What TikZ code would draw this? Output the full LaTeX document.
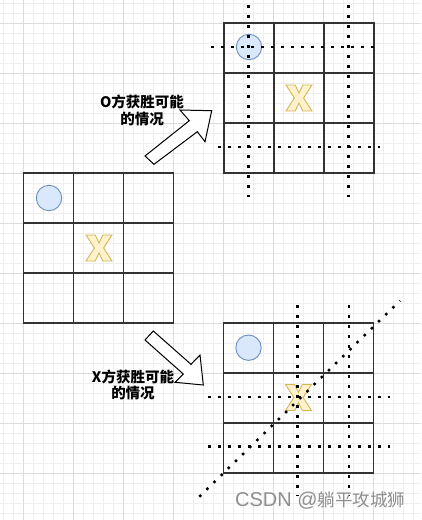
\documentclass[tikz,border=0pt]{standalone}
\usepackage{fontspec}
\newfontfamily\cjk{Noto Sans CJK SC}
\newfontfamily\wmlatin{Liberation Sans}
\definecolor{gridminor}{HTML}{EEEEEE}
\definecolor{gridmajor}{HTML}{DCDCDC}
\definecolor{boardc}{HTML}{333333}
\definecolor{ofill}{HTML}{DAE8FC}
\definecolor{odraw}{HTML}{6C8EBF}
\definecolor{xfill}{HTML}{FFF2CC}
\definecolor{xdraw}{HTML}{D6B656}
\definecolor{wmc}{HTML}{8E8E8E}
\tikzset{
  minorline/.style={gridminor, line width=0.8pt},
  majorline/.style={gridmajor, line width=0.9pt},
  board/.style={draw=boardc, line width=1.6pt, minimum size=150pt, inner sep=0pt, outer sep=0pt, fill=none},
  boardline/.style={boardc, line width=1.6pt},
  ocirc/.style={circle, draw=odraw, fill=ofill, line width=0.9pt, minimum size=25.4pt, inner sep=0pt},
  xshape/.style={draw=xdraw, fill=xfill, line width=0.9pt, line join=miter},
  dots/.style={black, line width=2.5pt, dash pattern=on 2.5pt off 7.5pt},
  blockarrow/.style={draw=black, fill=white, line width=1pt, line join=miter},
  lbl/.style={align=center, inner sep=0pt, font=\cjk\bfseries\fontsize{14.5}{16.5}\selectfont},
  wm/.style={inner sep=0pt, text=wmc},
  xmark/.pic={\path[xshape] (-13,-13) -- (-3.8,-13) -- (0,-5) -- (3.8,-13) -- (13,-13) -- (4.6,0) -- (13,13) -- (3.8,13) -- (0,5) -- (-3.8,13) -- (-13,13) -- (-4.6,0) -- cycle;}
}
\begin{document}
\begin{tikzpicture}[x=1pt,y=-1pt]
\useasboundingbox[fill=white] (0,0) rectangle (421,520);
% background grid
\foreach \x in {3.5,13.5,...,421} \draw[minorline] (\x,0) -- (\x,520);
\foreach \y in {3,13,...,520} \draw[minorline] (0,\y) -- (421,\y);
\foreach \x in {23.5,73.5,...,421} \draw[majorline] (\x,0) -- (\x,520);
\foreach \y in {23,73,...,520} \draw[majorline] (0,\y) -- (421,\y);

% boards
\foreach \n/\cx/\cy in {L/98.5/248, T/299/98, B/298.5/398}{
  \node[board] (\n) at (\cx,\cy) {};
  \draw[boardline] ([xshift=50pt]\n.north west) -- ([xshift=50pt]\n.south west);
  \draw[boardline] ([xshift=-50pt]\n.north east) -- ([xshift=-50pt]\n.south east);
  \draw[boardline] ([yshift=-50pt]\n.north west) -- ([yshift=-50pt]\n.north east);
  \draw[boardline] ([yshift=50pt]\n.south west) -- ([yshift=50pt]\n.south east);
}

% pieces
\node[ocirc] (Lo) at (49,198) {};
\pic at (99,248) {xmark};
\node[ocirc] (To) at (249,47) {};
\pic at (299,98) {xmark};
\node[ocirc] (Bo) at (248.5,347.7) {};
\pic at (298.5,397.5) {xmark};

% dotted lines, top right
\coordinate (tv1a) at (248.7,5);   \coordinate (tv1b) at (248.7,197);
\coordinate (tv2a) at (348.7,5);   \coordinate (tv2b) at (348.7,197);
\coordinate (th1a) at (211,47);    \coordinate (th1b) at (374,47);
\coordinate (th2a) at (218,147);   \coordinate (th2b) at (380,147);
\draw[dots] (tv1a) -- (tv1b);
\draw[dots] (tv2a) -- (tv2b);
\draw[dots] (th1a) -- (th1b);
\draw[dots] (th2a) -- (th2b);

% dotted lines, bottom right
\coordinate (bv1a) at (297.7,305); \coordinate (bv1b) at (297.7,496);
\coordinate (bv2a) at (349,305);   \coordinate (bv2b) at (349,496);
\coordinate (bh1a) at (208,397);   \coordinate (bh1b) at (390,397);
\coordinate (bh2a) at (208,446.7); \coordinate (bh2b) at (390,446.7);
\coordinate (bda) at (199.3,496.7); \coordinate (bdb) at (400,300.7);
\draw[dots] (bv1a) -- (bv1b);
\draw[dots] (bv2a) -- (bv2b);
\draw[dots] (bh1a) -- (bh1b);
\draw[dots] (bh2a) -- (bh2b);
\draw[dots] (bda) -- (bdb);

% block arrows
\path[blockarrow] (145,156) -- (189.3,120.7) -- (180,110) -- (211.7,110.7) -- (205,141.7) -- (197.3,131.7) -- (154,164.3) -- cycle;
\path[blockarrow] (153.3,331) -- (191,364.3) -- (200,355) -- (203.3,385) -- (175,382.3) -- (183.3,374) -- (145,340) -- cycle;

% labels
\node[lbl] (lo) at (142,110.5) {O方获胜可能\\的情况};
\node[lbl] (lx) at (133,385) {X方获胜可能\\的情况};

% watermark
\node[wm, anchor=base west] (wmk) at (235,506.5) {{\wmlatin\fontsize{20}{20}\selectfont CSDN @}{\cjk\fontsize{17.5}{20}\selectfont 躺平攻城狮}};
\end{tikzpicture}
\end{document}
